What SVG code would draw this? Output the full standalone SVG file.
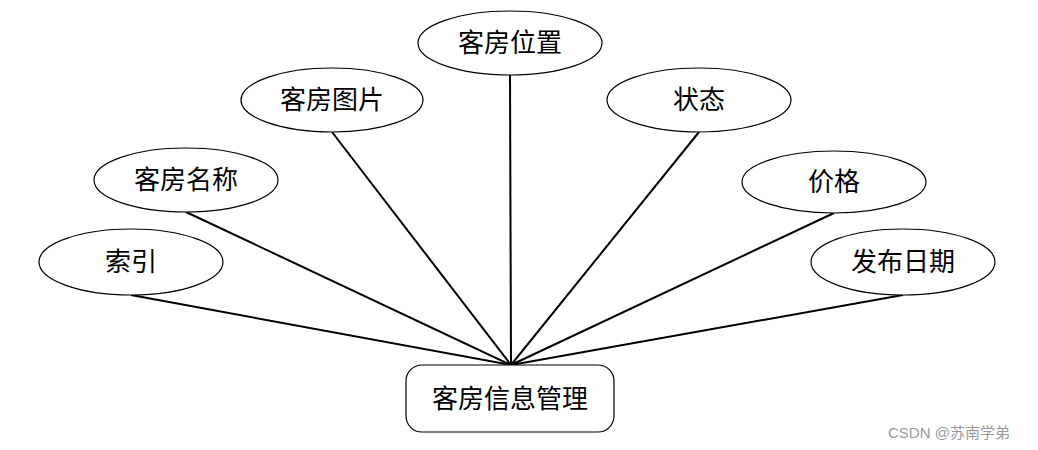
<svg xmlns="http://www.w3.org/2000/svg" width="1038" height="450" viewBox="0 0 1038 450">
<style>
.n{fill:#fff;stroke:#000;stroke-width:1.2}
.t{font-family:"Liberation Serif","Noto Sans CJK SC",serif;font-size:26px;text-anchor:middle;dominant-baseline:central;fill:#000}
.c line{stroke:#000;stroke-width:2}
.w{font-family:"Liberation Sans","Noto Sans CJK SC",sans-serif;font-size:15px;fill:#999}
</style>
<rect width="1038" height="450" fill="#fff"/>
<g class="c" id="connectors">
<line x1="131" y1="295" x2="511" y2="365"/>
<line x1="186" y1="212" x2="511" y2="365"/>
<line x1="332" y1="132" x2="511" y2="365"/>
<line x1="510" y1="75" x2="511" y2="365"/>
<line x1="699" y1="132" x2="511" y2="365"/>
<line x1="834" y1="213" x2="511" y2="365"/>
<line x1="903" y1="295" x2="511" y2="365"/>
</g>
<g id="n-main"><rect class="n" x="406" y="365" width="208" height="67" rx="16"/><text class="t" x="510" y="399">客房信息管理</text></g>
<g id="n-pos"><ellipse class="n" cx="510" cy="43" rx="92" ry="32"/><text class="t" x="510" y="43">客房位置</text></g>
<g id="n-pic"><ellipse class="n" cx="332" cy="100" rx="91" ry="32"/><text class="t" x="332" y="100">客房图片</text></g>
<g id="n-state"><ellipse class="n" cx="699" cy="100" rx="92" ry="32"/><text class="t" x="699" y="100">状态</text></g>
<g id="n-name"><ellipse class="n" cx="186" cy="180" rx="92" ry="32"/><text class="t" x="186" y="180">客房名称</text></g>
<g id="n-price"><ellipse class="n" cx="834" cy="182" rx="92" ry="31"/><text class="t" x="834" y="182">价格</text></g>
<g id="n-idx"><ellipse class="n" cx="131" cy="262" rx="92" ry="33"/><text class="t" x="131" y="262">索引</text></g>
<g id="n-date"><ellipse class="n" cx="903" cy="262" rx="92" ry="33"/><text class="t" x="903" y="262">发布日期</text></g>
<text class="w" x="888" y="438">CSDN @苏南学弟</text>
</svg>
